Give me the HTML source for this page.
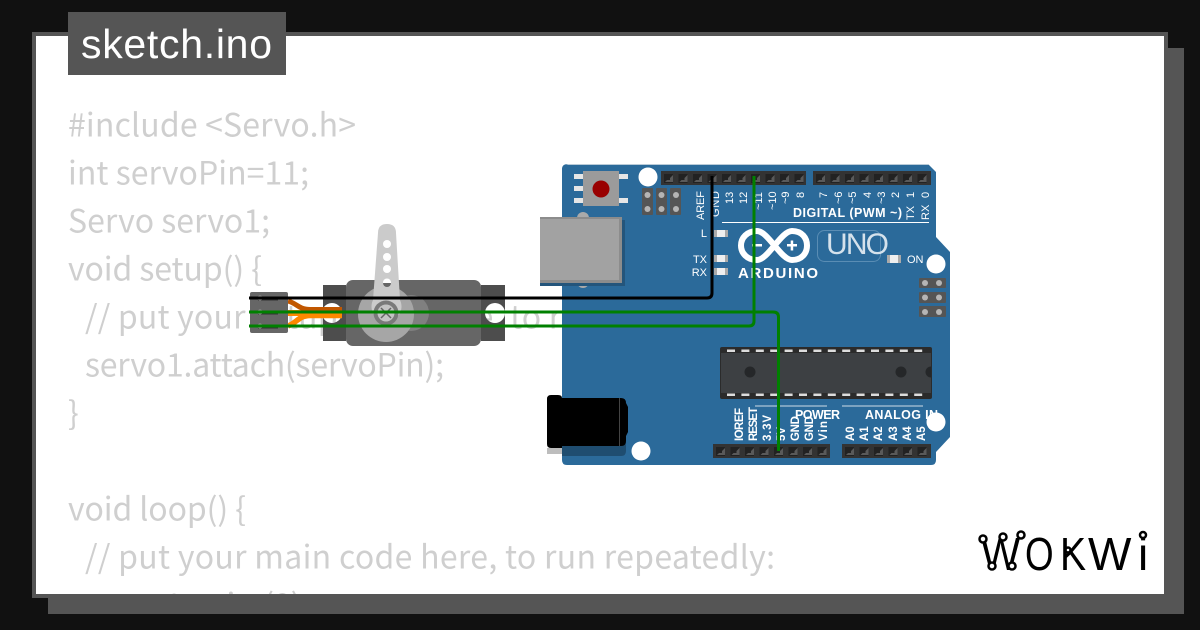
<!DOCTYPE html>
<html><head><meta charset="utf-8"><style>html,body{margin:0;padding:0;background:#111;width:1200px;height:630px;overflow:hidden}svg{display:block}
.c{font-family:"Noto Sans CJK JP","Liberation Sans",sans-serif;font-size:32px;fill:#cfcfcf}
.p{font-family:"Liberation Sans",sans-serif;font-size:11px;fill:#fff}
.b{font-family:"Liberation Sans",sans-serif;font-size:11.500px;font-weight:bold;fill:#fff}
.h{font-family:"Liberation Sans",sans-serif;font-size:12.500px;font-weight:bold;fill:#fff}
.w{font-family:"Liberation Sans",sans-serif;font-size:46px;fill:#000}
</style></head><body>
<svg width="1200" height="630" viewBox="0 0 1200 630" xmlns="http://www.w3.org/2000/svg">
<defs>
<pattern id="h" width="14.5" height="14" patternUnits="userSpaceOnUse">
<rect width="14.5" height="14" fill="#333"/>
<rect x="3" y="3" width="9" height="9" fill="#222"/>
<path d="M4 11H12V4L9 7V9H6Z" fill="#5a5a5a"/>
</pattern>
<clipPath id="panel"><rect x="36" y="36" width="1128" height="558"/></clipPath>
</defs>
<rect width="1200" height="630" fill="#111"/>
<rect x="48" y="48" width="1136" height="566" fill="#555"/>
<rect x="36" y="36" width="1128" height="558" fill="#fff"/>
<g clip-path="url(#panel)">
<text x="68" y="136.500" class="c" textLength="288">#include &lt;Servo.h&gt;</text>
<text x="68" y="184.500" class="c" textLength="241">int servoPin=11;</text>
<text x="68" y="232.500" class="c" textLength="202">Servo servo1;</text>
<text x="68" y="280.500" class="c" textLength="194">void setup() {</text>
<text x="85" y="328.500" class="c" textLength="605">// put your setup code here, to run once:</text>
<text x="85" y="376.500" class="c" textLength="359">servo1.attach(servoPin);</text>
<text x="68" y="424.500" class="c">}</text>
<text x="68" y="520.500" class="c" textLength="178">void loop() {</text>
<text x="85" y="568.500" class="c" textLength="690">// put your main code here, to run repeatedly:</text>
<text x="85" y="616.500" class="c" textLength="225">servo1.write(0);</text>
</g>
<rect x="34" y="34" width="1132" height="562" fill="none" stroke="#555" stroke-width="4"/>
<rect x="68" y="12" width="218" height="63" fill="#555"/>
<text x="81" y="58" font-family="Liberation Sans,sans-serif" font-size="41" fill="#fff" textLength="191">sketch.ino</text>

<!-- board -->
<path d="M568 164H928L936 172V237L950 252V437L936 452V460Q936 465 931 465H567Q562 465 562 460V169Q562 164 568 164Z" fill="#2b6a9a"/>
<path d="M568 164H928L929 165H566Z" fill="#b9cbd8"/>
<!-- headers -->
<rect transform="translate(661,171)" width="145" height="14" fill="url(#h)"/>
<rect transform="translate(813,171)" width="118" height="14" fill="url(#h)"/>
<rect transform="translate(713,444)" width="117" height="14" fill="url(#h)"/>
<rect transform="translate(842,444)" width="89" height="14" fill="url(#h)"/>
<!-- holes -->
<g fill="#fff"><circle cx="648" cy="177" r="9.5"/><circle cx="936" cy="264" r="9.5"/><circle cx="936" cy="422" r="9.5"/><circle cx="641" cy="451" r="9.5"/></g>
<!-- reset -->
<g fill="#e6e6e6"><rect x="574" y="174" width="10" height="5"/><rect x="574" y="186" width="10" height="5"/><rect x="574" y="198" width="10" height="5"/><rect x="618" y="174" width="10" height="5"/><rect x="618" y="198" width="10" height="5"/></g>
<rect x="583" y="171" width="36" height="35" fill="#9b9b9b"/><circle cx="601" cy="189" r="8.5" fill="#990000"/>
<!-- icsp left -->
<g fill="#555"><rect x="642" y="188" width="11" height="27" rx="1"/><rect x="656" y="188" width="11" height="27" rx="1"/><rect x="670" y="188" width="11" height="27" rx="1"/></g>
<g fill="#b5b5b5"><circle cx="647.500" cy="195" r="3"/><circle cx="647.500" cy="209" r="3"/><circle cx="661.500" cy="195" r="3"/><circle cx="661.500" cy="209" r="3"/><circle cx="676" cy="195" r="3"/><circle cx="676" cy="209" r="3"/></g>
<!-- usb -->
<circle cx="583" cy="218" r="6" fill="#aaa"/><circle cx="583" cy="282" r="6" fill="#aaa"/>
<rect x="540" y="220" width="85" height="66" fill="#24557b"/>
<rect x="540" y="217" width="82" height="66" fill="#8c8c8c"/>
<rect x="540" y="219" width="79" height="61" fill="#a2a2a2"/>
<!-- icsp right -->
<g fill="#555"><rect x="919" y="278" width="27" height="10" rx="1"/><rect x="919" y="292" width="27" height="11" rx="1"/><rect x="919" y="306" width="27" height="11" rx="1"/></g>
<g fill="#b5b5b5"><circle cx="925" cy="283" r="3"/><circle cx="939" cy="283" r="3"/><circle cx="925" cy="297.500" r="3"/><circle cx="939" cy="297.500" r="3"/><circle cx="925" cy="312" r="3"/><circle cx="939" cy="312" r="3"/></g>
<!-- leds -->
<g>
<rect x="714" y="230" width="14" height="7" fill="#aaa"/><rect x="717" y="230" width="8" height="7" fill="#eee"/>
<rect x="714" y="255" width="14" height="7" fill="#aaa"/><rect x="717" y="255" width="8" height="7" fill="#eee"/>
<rect x="714" y="268" width="14" height="7" fill="#aaa"/><rect x="717" y="268" width="8" height="7" fill="#eee"/>
<rect x="887" y="255" width="14" height="8" fill="#aaa"/><rect x="890" y="255" width="8" height="8" fill="#eee"/>
</g>
<text x="707" y="237" text-anchor="end" class="p">L</text>
<text x="707" y="263" text-anchor="end" class="p">TX</text>
<text x="707" y="276" text-anchor="end" class="p">RX</text>
<text x="907" y="263" class="p">ON</text>
<!-- top pin labels -->
<g>
<text class="p" transform="translate(704,220) rotate(-90)" textLength="29">AREF</text>
<text class="p" transform="translate(719,217) rotate(-90)" textLength="26">GND</text>
<text class="p" transform="translate(733,204) rotate(-90)">13</text>
<text class="p" transform="translate(747,204) rotate(-90)">12</text>
<text class="p" transform="translate(762,210) rotate(-90)">~11</text>
<text class="p" transform="translate(776,210) rotate(-90)">~10</text>
<text class="p" transform="translate(789,204) rotate(-90)">~9</text>
<text class="p" transform="translate(804,198) rotate(-90)">8</text>
<text class="p" transform="translate(827,198) rotate(-90)">7</text>
<text class="p" transform="translate(842,204) rotate(-90)">~6</text>
<text class="p" transform="translate(856,204) rotate(-90)">~5</text>
<text class="p" transform="translate(871,198) rotate(-90)">4</text>
<text class="p" transform="translate(885,204) rotate(-90)">~3</text>
<text class="p" transform="translate(899,198) rotate(-90)">2</text>
<text class="p" transform="translate(914,198) rotate(-90)">1</text>
<text class="p" transform="translate(929,198) rotate(-90)">0</text>
<text class="p" transform="translate(914,220) rotate(-90)">TX</text>
<text class="p" transform="translate(929,220) rotate(-90)">RX</text>
</g>
<text x="793" y="217" class="h" textLength="109">DIGITAL (PWM ~)</text>
<rect x="722" y="222" width="207" height="1" fill="#fff"/>
<!-- logo -->
<path d="M757 231C747 231 741 238 741 245.500C741 253 747 260 757 260C768 260 781 231 792 231C802 231 807 238 807 245.500C807 253 802 260 792 260C781 260 768 231 757 231Z" fill="none" stroke="#fff" stroke-width="6"/>
<rect x="752" y="244" width="10" height="2.500" fill="#fff"/>
<rect x="787" y="244" width="10" height="2.500" fill="#fff"/><rect x="790.700" y="240.500" width="2.500" height="10" fill="#fff"/>
<text x="738" y="278" font-family="Liberation Sans,sans-serif" font-size="15" font-weight="bold" fill="#fff" textLength="80">ARDUINO</text>
<rect x="817.500" y="230.500" width="63" height="31" rx="7" fill="none" stroke="#5a8db4" stroke-width="1"/>
<text x="826" y="254" font-family="Liberation Sans,sans-serif" font-size="30" fill="#d5e2ec" textLength="63">UNO</text>
<!-- chip -->
<rect x="720" y="347" width="212" height="52" rx="2" fill="#2b2b2b"/>
<rect x="721" y="353" width="210" height="40" fill="#3d4043"/>
<g fill="#ddd">
<rect x="727" y="349.500" width="8" height="2.500"/><rect x="741.400" y="349.500" width="8" height="2.500"/><rect x="755.800" y="349.500" width="8" height="2.500"/><rect x="770.200" y="349.500" width="8" height="2.500"/><rect x="784.600" y="349.500" width="8" height="2.500"/><rect x="799" y="349.500" width="8" height="2.500"/><rect x="813.400" y="349.500" width="8" height="2.500"/><rect x="827.800" y="349.500" width="8" height="2.500"/><rect x="842.200" y="349.500" width="8" height="2.500"/><rect x="856.600" y="349.500" width="8" height="2.500"/><rect x="871" y="349.500" width="8" height="2.500"/><rect x="885.400" y="349.500" width="8" height="2.500"/><rect x="899.800" y="349.500" width="8" height="2.500"/><rect x="914.200" y="349.500" width="8" height="2.500"/>
<rect x="727" y="393.500" width="8" height="2.500"/><rect x="741.400" y="393.500" width="8" height="2.500"/><rect x="755.800" y="393.500" width="8" height="2.500"/><rect x="770.200" y="393.500" width="8" height="2.500"/><rect x="784.600" y="393.500" width="8" height="2.500"/><rect x="799" y="393.500" width="8" height="2.500"/><rect x="813.400" y="393.500" width="8" height="2.500"/><rect x="827.800" y="393.500" width="8" height="2.500"/><rect x="842.200" y="393.500" width="8" height="2.500"/><rect x="856.600" y="393.500" width="8" height="2.500"/><rect x="871" y="393.500" width="8" height="2.500"/><rect x="885.400" y="393.500" width="8" height="2.500"/><rect x="899.800" y="393.500" width="8" height="2.500"/><rect x="914.200" y="393.500" width="8" height="2.500"/>
</g>
<g fill="#252729"><circle cx="750" cy="372" r="5.500"/><circle cx="901" cy="372" r="5.500"/><path d="M931 366.500A5.500 5.500 0 0 0 931 377.500Z"/></g>
<!-- power / analog -->
<rect x="755" y="405.500" width="72" height="1" fill="#cfdce6"/>
<rect x="842" y="405.500" width="81" height="1" fill="#cfdce6"/>
<text x="795" y="419" class="h" textLength="45">POWER</text>
<text x="865" y="419" class="h" textLength="73">ANALOG IN</text>
<g>
<text class="b" transform="translate(743,441) rotate(-90)" textLength="33">IOREF</text>
<text class="b" transform="translate(757,441) rotate(-90)" textLength="34">RESET</text>
<text class="b" transform="translate(771,441) rotate(-90)" textLength="26">3.3V</text>
<text class="b" transform="translate(785,441) rotate(-90)" textLength="14">5V</text>
<text class="b" transform="translate(799,441) rotate(-90)" textLength="25">GND</text>
<text class="b" transform="translate(813,441) rotate(-90)" textLength="25">GND</text>
<text class="b" transform="translate(827,441) rotate(-90)" textLength="20">Vin</text>
<text class="b" transform="translate(854,441) rotate(-90)">A0</text>
<text class="b" transform="translate(868,441) rotate(-90)">A1</text>
<text class="b" transform="translate(882,441) rotate(-90)">A2</text>
<text class="b" transform="translate(897,441) rotate(-90)">A3</text>
<text class="b" transform="translate(911,441) rotate(-90)">A4</text>
<text class="b" transform="translate(925,441) rotate(-90)">A5</text>
</g>
<!-- jack -->
<rect x="547" y="448" width="16" height="6" fill="#bdbdbd"/>
<path d="M562 440H626V451Q626 456 621 456H562Z" fill="#1f4d70"/>
<path d="M547 399Q547 395 551 395H558Q562 395 562 398H621Q626 398 626 403L628 407V432L626 436V441Q626 446 621 446H562V448H551Q547 448 547 444Z" fill="#000"/>
<rect x="619" y="398" width="1" height="48" fill="#444"/>

<!-- servo -->
<path d="M323 285H346V341H323V317.400A10 10 0 1 0 323 308.600Z" fill="#4d4d4d"/>
<path fill-rule="evenodd" d="M481 285H505V341H481ZM495 303A10 10 0 1 0 495 323A10 10 0 1 0 495 303Z" fill="#4d4d4d"/>
<rect x="346" y="280" width="135" height="66" rx="7" fill="#666"/>
<circle cx="411" cy="313" r="18" fill="#808080"/>
<circle cx="386" cy="314" r="28" fill="#a6a6a6"/>
<path d="M378 233Q378 224 387 224Q396 224 396 233L400 300A15 15 0 1 1 373 300Z" fill="#cbcbcb"/>
<circle cx="387" cy="244" r="4" fill="#fff"/><circle cx="387" cy="257" r="4" fill="#fff"/><circle cx="387" cy="269" r="4" fill="#fff"/>
<circle cx="387" cy="282.500" r="4" fill="#fff"/><path d="M383 283H391A4 4 0 0 1 383 283Z" fill="#666"/>
<circle cx="386" cy="313" r="12.500" fill="#7a7a7a"/><circle cx="386" cy="313" r="8.500" fill="#c4c4c4"/>
<path d="M381 308L391 318M391 308L381 318" stroke="#666" stroke-width="1.500"/>
<!-- servo wires -->
<path d="M288 313H342" stroke="#ff8800" stroke-width="6"/>
<path d="M288 301C298 304 298 309 310 309.500H342" fill="none" stroke="#c15700" stroke-width="5"/>
<path d="M288 326C298 322 298 316 310 315.500H342" fill="none" stroke="#ff8800" stroke-width="5.500"/>
<rect x="250" y="292" width="38" height="41" rx="2" fill="#666"/>
<g fill="#333"><rect x="258" y="299" width="20" height="1.500"/><rect x="258" y="313" width="20" height="1.500"/><rect x="258" y="327" width="20" height="1.500"/></g>
<g fill="#999"><circle cx="260" cy="298" r="2.500"/><circle cx="260" cy="312" r="2.500"/><circle cx="260" cy="326" r="2.500"/></g>

<!-- wires -->
<path d="M249 298H707Q712 298 712 293V176" fill="none" stroke="#000" stroke-width="3"/>
<path d="M249 312H773Q778.500 312 778.500 317V451" fill="none" stroke="#008000" stroke-width="3"/>
<path d="M249 326H749Q754 326 754 321V176" fill="none" stroke="#008000" stroke-width="3"/>

<!-- wokwi -->
<text class="w" transform="translate(981,570) scale(.9,1)">W</text>
<text class="w" transform="translate(1025,570) scale(.8,1)">O</text>
<text class="w" transform="translate(1060,570) scale(.85,1)">K</text>
<text class="w" transform="translate(1088,570)">W</text>
<text class="w" x="1138" y="570">i</text>
<g fill="#fff" stroke="#000" stroke-width="2.500"><circle cx="983" cy="539" r="3.500"/><circle cx="1021" cy="535" r="3.500"/><circle cx="1003" cy="537" r="3.500"/><circle cx="992" cy="566" r="3.500"/><circle cx="1012" cy="566" r="3.500"/><circle cx="1068" cy="550" r="2.500"/><circle cx="1143" cy="535" r="3"/></g>
</svg>
</body></html>
